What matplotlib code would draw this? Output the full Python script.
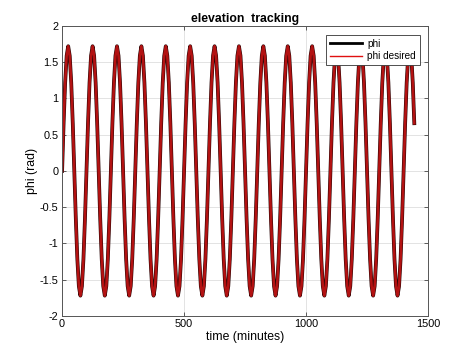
import numpy as np
import matplotlib
matplotlib.use("Agg")
import matplotlib.pyplot as plt
from matplotlib.lines import Line2D

plt.rcParams['font.family'] = ['Liberation Sans', 'DejaVu Sans']

# sample step of the readings (minutes)
step_min = 6.25

# phi readings (rad), one row per 100-minute swing
phi_desired = [
    0.0, 0.658, 1.216, 1.589, 1.72, 1.589, 1.216, 0.658, 0.0, -0.658, -1.216, -1.589, -1.72, -1.589, -1.216, -0.658,
    0.0, 0.658, 1.216, 1.589, 1.72, 1.589, 1.216, 0.658, 0.0, -0.658, -1.216, -1.589, -1.72, -1.589, -1.216, -0.658,
    0.0, 0.658, 1.216, 1.589, 1.72, 1.589, 1.216, 0.658, 0.0, -0.658, -1.216, -1.589, -1.72, -1.589, -1.216, -0.658,
    0.0, 0.658, 1.216, 1.589, 1.72, 1.589, 1.216, 0.658, 0.0, -0.658, -1.216, -1.589, -1.72, -1.589, -1.216, -0.658,
    0.0, 0.658, 1.216, 1.589, 1.72, 1.589, 1.216, 0.658, 0.0, -0.658, -1.216, -1.589, -1.72, -1.589, -1.216, -0.658,
    0.0, 0.658, 1.216, 1.589, 1.72, 1.589, 1.216, 0.658, 0.0, -0.658, -1.216, -1.589, -1.72, -1.589, -1.216, -0.658,
    0.0, 0.658, 1.216, 1.589, 1.72, 1.589, 1.216, 0.658, 0.0, -0.658, -1.216, -1.589, -1.72, -1.589, -1.216, -0.658,
    0.0, 0.658, 1.216, 1.589, 1.72, 1.589, 1.216, 0.658, 0.0, -0.658, -1.216, -1.589, -1.72, -1.589, -1.216, -0.658,
    0.0, 0.658, 1.216, 1.589, 1.72, 1.589, 1.216, 0.658, 0.0, -0.658, -1.216, -1.589, -1.72, -1.589, -1.216, -0.658,
    0.0, 0.658, 1.216, 1.589, 1.72, 1.589, 1.216, 0.658, 0.0, -0.658, -1.216, -1.589, -1.72, -1.589, -1.216, -0.658,
    0.0, 0.658, 1.216, 1.589, 1.72, 1.589, 1.216, 0.658, 0.0, -0.658, -1.216, -1.589, -1.72, -1.589, -1.216, -0.658,
    0.0, 0.658, 1.216, 1.589, 1.72, 1.589, 1.216, 0.658, 0.0, -0.658, -1.216, -1.589, -1.72, -1.589, -1.216, -0.658,
    0.0, 0.658, 1.216, 1.589, 1.72, 1.589, 1.216, 0.658, 0.0, -0.658, -1.216, -1.589, -1.72, -1.589, -1.216, -0.658,
    0.0, 0.658, 1.216, 1.589, 1.72, 1.589, 1.216, 0.658, 0.0, -0.658, -1.216, -1.589, -1.72, -1.589, -1.216, -0.658,
    0.0, 0.658, 1.216, 1.589, 1.72, 1.589, 1.216, 0.658,
]
# tracked phi sits on top of the desired one
phi = list(phi_desired)

time_min = np.arange(len(phi_desired)) * step_min

x_ticks = [0, 500, 1000, 1500]
y_ticks = [-2, -1.5, -1, -0.5, 0, 0.5, 1, 1.5, 2]
y_labels = ['-2', '-1.5', '-1', '-0.5', '0', '0.5', '1', '1.5', '2']

fig = plt.figure(figsize=(4.74, 3.55), dpi=100)
ax = fig.add_axes([0.131, 0.11, 0.772, 0.817])

ax.plot(time_min, phi, color='#2a0505', lw=2.7)
ax.plot(time_min, phi_desired, color='#b31212', lw=1.9)

ax.set_xlim(0, 1500)
ax.set_ylim(-2, 2)
ax.set_xticks(x_ticks)
ax.set_yticks(y_ticks)
ax.set_yticklabels(y_labels)
ax.grid(True, color='#e3e3e3', lw=0.7)
ax.set_axisbelow(True)
ax.tick_params(direction='in', length=3, width=0.6, labelsize=7.8, color='#444444',
               top=True, right=True, pad=2.5)
for s in ax.spines.values():
    s.set_color('#555555')
    s.set_linewidth(0.7)

ax.set_title('elevation  tracking', fontsize=8.8, fontweight='bold', pad=3)
ax.set_xlabel('time (minutes)', fontsize=8.8, labelpad=1)
ax.set_ylabel('phi (rad)', fontsize=8.8, labelpad=1)

handles = [Line2D([], [], color='black', lw=2.0),
           Line2D([], [], color='#e01010', lw=1.0)]
leg = ax.legend(handles, ['phi', 'phi desired'], loc='upper right', fontsize=7.2,
                frameon=True, fancybox=False, edgecolor='#333333', framealpha=1,
                bbox_to_anchor=(0.978, 0.969), borderaxespad=0, handlelength=3.2,
                borderpad=0.4, labelspacing=0.25, handletextpad=0.5)
leg.get_frame().set_linewidth(0.6)

fig.savefig('out.png', dpi=100)
